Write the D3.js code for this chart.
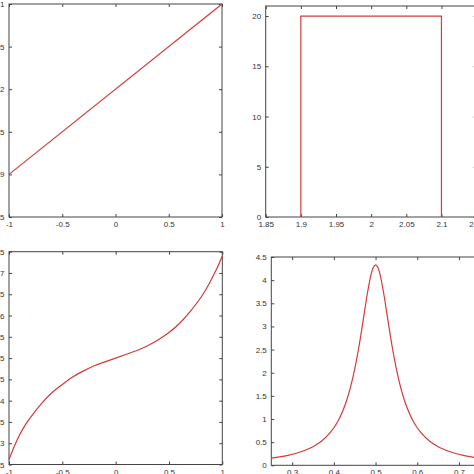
<!DOCTYPE html>
<html>
<head>
<meta charset="utf-8">
<script src="https://cdn.jsdelivr.net/npm/d3@7"></script>
<style>
  body { margin: 0; background: #fff; }
  svg { display: block; }
  .axis text { font: 8px "Liberation Sans", Arial, sans-serif; fill: #333; }
  .axis path { display: none; }
  .axis line { stroke: #444; }
  .frame { fill: none; stroke: #444; stroke-width: 1; }
  .curve { fill: none; stroke: #d43a3a; stroke-width: 1.2; }
</style>
</head>
<body>
<svg id="chart" width="474" height="474"></svg>
<script>
// panel 1 : straight line
var lineX = [-1, 1];
var lineY = [1.9, 2.1];
var p1XTicks = [-1, -0.5, 0, 0.5, 1];
var p1YTicks = [1.85, 1.9, 1.95, 2, 2.05, 2.1];

// panel 2 : uniform box
var boxEdges = [1.9, 2.1];
var boxHeight = [20];
var p2XTicks = [1.85, 1.9, 1.95, 2, 2.05, 2.1, 2.15];
var p2YTicks = [0, 5, 10, 15, 20];

// panel 3 : s-shaped curve
var sX = [-1, -0.95, -0.9, -0.85, -0.8, -0.7, -0.6, -0.5, -0.4, -0.3, -0.2, -0.1, 0,
          0.1, 0.2, 0.3, 0.4, 0.5, 0.6, 0.7, 0.8, 0.85, 0.9, 0.95, 1];
var sY = [0.262, 0.293, 0.32, 0.342, 0.36, 0.392, 0.418, 0.438, 0.456, 0.47, 0.482, 0.491, 0.5,
          0.509, 0.518, 0.529, 0.543, 0.56, 0.582, 0.61, 0.643, 0.663, 0.686, 0.711, 0.74];
var p3XTicks = [-1, -0.5, 0, 0.5, 1];
var p3YTicks = [0.25, 0.3, 0.35, 0.4, 0.45, 0.5, 0.55, 0.6, 0.65, 0.7, 0.75];

// panel 4 : peak
var pkX = [0.25, 0.27, 0.29, 0.31, 0.33, 0.35, 0.37, 0.39, 0.4, 0.41, 0.42, 0.43, 0.44, 0.45,
           0.46, 0.47, 0.48, 0.49, 0.495, 0.5, 0.505, 0.51, 0.52, 0.53, 0.54, 0.55, 0.56,
           0.57, 0.58, 0.59, 0.6, 0.61, 0.63, 0.65, 0.67, 0.69, 0.71, 0.73, 0.75];
var pkY = [0.154, 0.181, 0.215, 0.26, 0.32, 0.402, 0.519, 0.693, 0.811, 0.958, 1.146, 1.384, 1.69, 2.077,
           2.556, 3.114, 3.69, 4.15, 4.283, 4.33, 4.283, 4.15, 3.69, 3.114, 2.556, 2.077, 1.69,
           1.384, 1.146, 0.958, 0.811, 0.693, 0.519, 0.402, 0.32, 0.26, 0.215, 0.181, 0.154];
var p4XTicks = [0.3, 0.4, 0.5, 0.6, 0.7];
var p4YTicks = [0, 0.5, 1, 1.5, 2, 2.5, 3, 3.5, 4, 4.5];

var svg = d3.select("#chart");
var fmt = function(d) { return String(d); };

function makePanel(box, xDom, yDom, xTicks, yTicks) {
  var g = svg.append("g").attr("transform", "translate(" + box.left + "," + box.top + ")");
  var w = box.right - box.left, h = box.bottom - box.top;
  var x = d3.scaleLinear().domain(xDom).range([0, w]);
  var y = d3.scaleLinear().domain(yDom).range([h, 0]);

  // ticks point inwards on all four sides, labels only bottom and left
  g.append("g").attr("class", "axis").attr("transform", "translate(0," + h + ")")
    .call(d3.axisBottom(x).tickValues(xTicks).tickSize(-3).tickPadding(4.5).tickFormat(fmt));
  g.append("g").attr("class", "axis")
    .call(d3.axisTop(x).tickValues(xTicks).tickSize(-3).tickFormat(""));
  g.append("g").attr("class", "axis")
    .call(d3.axisLeft(y).tickValues(yTicks).tickSize(-3).tickPadding(4.5).tickFormat(fmt));
  g.append("g").attr("class", "axis").attr("transform", "translate(" + w + ",0)")
    .call(d3.axisRight(y).tickValues(yTicks).tickSize(-3).tickFormat(""));

  g.append("rect").attr("class", "frame").attr("width", w).attr("height", h);
  return {g: g, x: x, y: y};
}

function drawCurve(p, xs, ys) {
  var line = d3.line()
    .x(function(d) { return p.x(d[0]); })
    .y(function(d) { return p.y(d[1]); })
    .curve(d3.curveMonotoneX);
  p.g.append("path").attr("class", "curve").attr("d", line(d3.zip(xs, ys)));
}

var p1 = makePanel({left: 9, right: 222, top: 4, bottom: 217}, [-1, 1], [1.85, 2.1], p1XTicks, p1YTicks);
drawCurve(p1, lineX, lineY);

var p2 = makePanel({left: 265.7, right: 476.6, top: 6, bottom: 217}, [1.85, 2.15], [0, 21], p2XTicks, p2YTicks);
var boxPts = [[boxEdges[0], 0], [boxEdges[0], boxHeight[0]], [boxEdges[1], boxHeight[0]], [boxEdges[1], 0]];
p2.g.append("path").attr("class", "curve")
  .attr("d", d3.line().x(function(d) { return p2.x(d[0]); }).y(function(d) { return p2.y(d[1]); })(boxPts));

var p3 = makePanel({left: 9, right: 222.3, top: 251.7, bottom: 464.5}, [-1, 1], [0.25, 0.75], p3XTicks, p3YTicks);
drawCurve(p3, sX, sY);

var p4 = makePanel({left: 271.3, right: 479.8, top: 257, bottom: 465.3}, [0.25, 0.75], [0, 4.5], p4XTicks, p4YTicks);
drawCurve(p4, pkX, pkY);
</script>
</body>
</html>
